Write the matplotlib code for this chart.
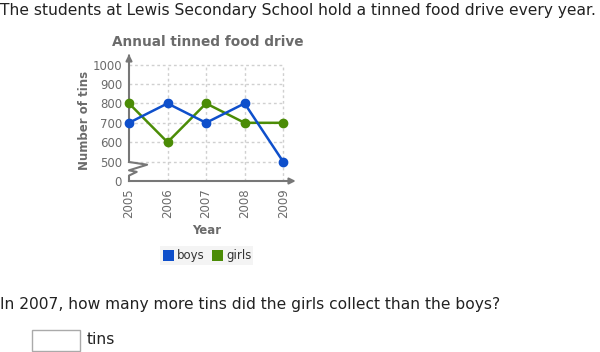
import matplotlib
matplotlib.use("Agg")
import matplotlib.pyplot as plt
from matplotlib.patches import Rectangle

years = [2005, 2006, 2007, 2008, 2009]
boys = [700, 800, 700, 800, 500]
girls = [800, 600, 800, 700, 700]
ytick_vals = [400, 500, 600, 700, 800, 900, 1000]
ytick_labels = ["0", "500", "600", "700", "800", "900", "1000"]

BLUE = "#0e4fcb"
GREEN = "#4b8c06"
GRAY = "#6b6b6b"
AX = "#777777"

fig = plt.figure(figsize=(6, 3.52), dpi=100)
ax = fig.add_axes([129/600, 1 - 181/352, (297-129)/600, (181-52)/352])
ax.set_xlim(2005, 2009.36)
ax.set_ylim(400, 1065)
for s in ax.spines.values():
    s.set_visible(False)

# grid
for v in ytick_vals[1:]:
    ax.plot([2005, 2009], [v, v], color="#d0d0d0", lw=1, ls=(0, (2, 2)), zorder=1)
for yr in years[1:]:
    ax.plot([yr, yr], [400, 1000], color="#d0d0d0", lw=1, ls=(0, (2, 2)), zorder=1)

# axes with break
ax.plot([2005, 2005], [498, 1040], color=AX, lw=1.5, clip_on=False, zorder=2)
ax.plot([2005, 2005.47, 2005, 2005.2, 2005, 2005],
        [498, 484, 455, 447, 428, 400], color=AX, lw=1.5, clip_on=False, zorder=2)
ax.plot([2005, 2009.2], [400, 400], color=AX, lw=1.5, clip_on=False, zorder=2)
ax.annotate("", xy=(2005, 1068), xytext=(2005, 1030),
            arrowprops=dict(arrowstyle="-|>", color=AX, lw=1.5, mutation_scale=9),
            annotation_clip=False)
ax.annotate("", xy=(2009.4, 400), xytext=(2009.1, 400),
            arrowprops=dict(arrowstyle="-|>", color=AX, lw=1.5, mutation_scale=9),
            annotation_clip=False)

ax.plot(years, boys, color=BLUE, lw=1.8, marker="o", ms=6, clip_on=False, zorder=4)
ax.plot(years, girls, color=GREEN, lw=1.8, marker="o", ms=6, clip_on=False, zorder=3)

ax.set_yticks(ytick_vals)
ax.set_yticklabels(ytick_labels)
ax.set_xticks(years)
ax.set_xticklabels([str(y) for y in years], rotation=90)
ax.tick_params(length=0, colors=GRAY, labelsize=8.5)
ax.tick_params(axis="y", pad=5)
ax.tick_params(axis="x", pad=5)

fig.text(208/600, 1 - 42/352, "Annual tinned food drive", ha="center", va="center",
         fontsize=9.8, fontweight="bold", color=GRAY)
fig.text(84/600, 1 - 120/352, "Number of tins", ha="center", va="center", rotation=90,
         fontsize=8.5, fontweight="bold", color=GRAY)
fig.text(207/600, 1 - 231/352, "Year", ha="center", va="center",
         fontsize=8.5, fontweight="bold", color=GRAY)

# legend
fig.patches.append(Rectangle((160/600, 1 - 265/352), 93/600, 19/352,
                             transform=fig.transFigure, facecolor="#f4f4f4", edgecolor="none"))
fig.patches.append(Rectangle((163/600, 1 - 261/352), 11/600, 11/352,
                             transform=fig.transFigure, facecolor=BLUE, edgecolor="none"))
fig.text(177/600, 1 - 255.5/352, "boys", ha="left", va="center", fontsize=8.5, color="#333333")
fig.patches.append(Rectangle((212/600, 1 - 261/352), 11/600, 11/352,
                             transform=fig.transFigure, facecolor=GREEN, edgecolor="none"))
fig.text(226/600, 1 - 255.5/352, "girls", ha="left", va="center", fontsize=8.5, color="#333333")

fig.text(0, 1 - 10/352, "The students at Lewis Secondary School hold a tinned food drive every year.",
         ha="left", va="center", fontsize=11.2, color="#222222")
fig.text(0, 1 - 305/352, "In 2007, how many more tins did the girls collect than the boys?",
         ha="left", va="center", fontsize=11.2, color="#222222")
fig.patches.append(Rectangle((32/600, 1 - 351/352), 48/600, 21/352,
                             transform=fig.transFigure, facecolor="white", edgecolor="#aaaaaa", lw=1))
fig.text(87/600, 1 - 340/352, "tins", ha="left", va="center", fontsize=11.2, color="#222222")

fig.savefig("out.png", dpi=100)
